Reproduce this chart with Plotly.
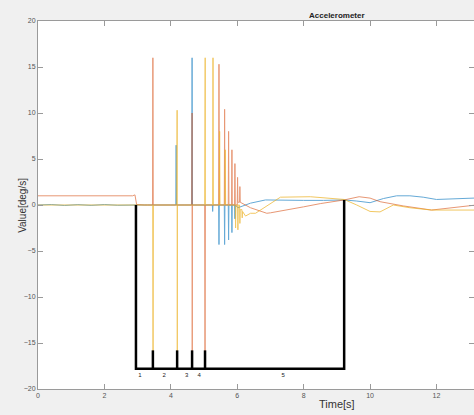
import plotly.graph_objects as go

# ---------------- data ----------------
blue_t = [0, 0.4, 0.8, 1.2, 1.6, 2.0, 2.4, 2.8, 3.0, 3.3,
          4.15, 4.16, 4.17, 4.4, 4.63, 4.64, 4.65, 5.0,
          5.25, 5.26, 5.27, 5.44, 5.45, 5.46, 5.61, 5.62, 5.63,
          5.73, 5.74, 5.75, 5.83, 5.84, 5.85, 5.92, 5.93, 5.94,
          6.02, 6.4, 6.85, 7.5, 8.0, 8.6, 9.22, 9.6, 10.0, 10.4,
          10.8, 11.2, 11.6, 12.0, 12.6, 13.2]
blue_v = [0.0, 0.05, -0.05, 0.04, -0.04, 0.05, -0.03, 0.03, 0.0, 0.0,
          0.0, 6.5, 0.0, 0.0, 0.0, 16.0, 0.0, 0.0,
          0.0, -0.7, 0.0, 0.0, -4.3, 0.0, 0.0, -4.3, 0.0,
          0.0, -3.8, 0.0, 0.0, -3.0, 0.0, 0.0, -1.5, 0.0,
          -0.3, 0.2, 0.55, 0.5, 0.5, 0.5, 0.55, 0.43, 0.25, 0.7,
          1.0, 1.0, 0.85, 0.6, 0.65, 0.76]

orange_t = [0, 1.0, 2.0, 2.85, 2.92, 2.97, 3.2,
            3.45, 3.46, 3.47, 4.0,
            4.63, 4.64, 4.645, 4.65, 5.02, 5.03, 5.04,
            5.44, 5.45, 5.46, 5.61, 5.62, 5.63, 5.73, 5.74, 5.75,
            5.83, 5.84, 5.85, 5.92, 5.93, 5.94, 6.0, 6.01, 6.02,
            6.07, 6.08, 6.09, 6.4, 6.89, 7.0, 7.5, 8.0, 8.5, 9.22,
            9.67, 10.0, 10.3, 11.0, 11.85, 12.5, 13.2]
orange_v = [1.0, 1.0, 1.0, 1.0, 1.1, 0.05, 0.0,
            0.0, 16.0, 0.0, 0.0,
            0.0, 10.0, -16.0, 0.0, 0.0, -16.0, 0.0,
            0.0, 15.3, 0.0, 0.0, 10.4, 0.0, 0.0, 8.0, 0.0,
            0.0, 6.0, 0.0, 0.0, 4.5, 0.0, 0.0, 3.0, 0.3,
            0.3, 2.0, 0.3, -0.3, -0.9, -0.85, -0.55, -0.2, 0.15, 0.55,
            0.9, 0.75, 0.36, -0.1, -0.55, -0.3, 0.0]

yellow_t = [0, 1.0, 2.0, 2.9, 3.2,
            3.455, 3.465, 3.475, 4.0,
            4.18, 4.19, 4.195, 4.2, 4.8,
            5.02, 5.035, 5.04, 5.26, 5.27, 5.28,
            5.46, 5.47, 5.48, 5.63, 5.64, 5.65,
            5.94, 5.95, 5.96, 6.01, 6.02, 6.03, 6.07, 6.08, 6.09,
            6.14, 6.15, 6.16, 6.25, 6.4, 6.55, 7.3, 8.2, 9.22,
            9.6, 10.0, 10.3, 10.7, 11.2, 11.85, 13.2]
yellow_v = [0.0, 0.02, -0.02, 0.0, 0.0,
            0.0, -16.0, 0.0, 0.0,
            0.0, 10.3, -16.0, 0.0, 0.0,
            0.0, 16.0, 0.0, 0.0, 16.0, 0.0,
            0.0, 8.0, 0.0, 0.0, 6.0, 0.0,
            0.0, -2.5, 0.0, 0.0, -2.7, 0.0, 0.0, -2.0, -0.5,
            -0.5, -1.4, -0.7, -1.2, -0.9, -0.9, 0.85, 0.9, 0.6,
            0.0, -0.7, -0.75, 0.0, -0.3, -0.55, -0.55]

# section markers (black)
section_x = [2.95, 3.46, 4.19, 4.64, 5.03, 9.22]
section_top = [0.0, -15.8, -15.8, -15.8, -15.8, 0.55]
section_base = -17.8
label_x = [3.07, 3.80, 4.48, 4.85, 7.38]
label_y = -18.5
label_text = ["1", "2", "3", "4", "5"]

x_ticks = [0, 2, 4, 6, 8, 10, 12]
y_ticks = [-20, -15, -10, -5, 0, 5, 10, 15, 20]

# ---------------- figure ----------------
fig = go.Figure()
fig.add_trace(go.Scatter(x=blue_t, y=blue_v, mode="lines",
                         line=dict(color="#0072BD", width=1), opacity=0.6))
fig.add_trace(go.Scatter(x=orange_t, y=orange_v, mode="lines",
                         line=dict(color="#D95319", width=1), opacity=0.6))
fig.add_trace(go.Scatter(x=yellow_t, y=yellow_v, mode="lines",
                         line=dict(color="#EDB120", width=1), opacity=0.7))

# black section outline
bx = [section_x[0], section_x[0], section_x[-1], section_x[-1]]
by = [section_top[0], section_base, section_base, section_top[-1]]
for sx, st in zip(section_x[1:-1], section_top[1:-1]):
    bx += [None, sx, sx]
    by += [None, section_base - 0.1, st]
fig.add_trace(go.Scatter(x=bx, y=by, mode="lines",
                         line=dict(color="black", width=2.5)))
fig.add_trace(go.Scatter(x=label_x, y=[label_y] * len(label_x), mode="text",
                         text=label_text,
                         textfont=dict(family="Liberation Sans", size=6, color="#222")))

axis_common = dict(showline=True, linecolor="#9a9a9a", linewidth=1,
                   ticks="inside", ticklen=5, tickcolor="#9a9a9a",
                   mirror="ticks", showgrid=False, zeroline=False,
                   tickfont=dict(family="Liberation Sans", size=7, color="#555"))

fig.update_layout(
    width=474, height=415,
    margin=dict(l=38, r=0, t=21, b=26),
    paper_bgcolor="#f0f0f0", plot_bgcolor="white",
    showlegend=False,
    xaxis=dict(range=[0, 13.13], tickvals=x_ticks, **axis_common),
    yaxis=dict(range=[-20, 20], tickvals=y_ticks, **axis_common),
    annotations=[
        dict(text="<b>Accelerometer</b>", xref="paper", yref="paper",
             x=0.686, y=1.016, showarrow=False, xanchor="center", yanchor="middle",
             font=dict(family="Liberation Sans", size=8, color="#222")),
        dict(text="Time[s]", xref="paper", yref="paper",
             x=0.686, y=-0.041, showarrow=False, xanchor="center", yanchor="middle",
             font=dict(family="Liberation Sans", size=11, color="#333")),
        dict(text="Value[deg/s]", xref="paper", yref="paper",
             x=-0.037, y=0.5, showarrow=False, textangle=-90,
             xanchor="center", yanchor="middle",
             font=dict(family="Liberation Sans", size=10, color="#333")),
    ],
)

fig.write_html("out.html", config={"displayModeBar": False},
               post_script="document.body.style.margin='0';document.body.style.overflow='hidden';")
